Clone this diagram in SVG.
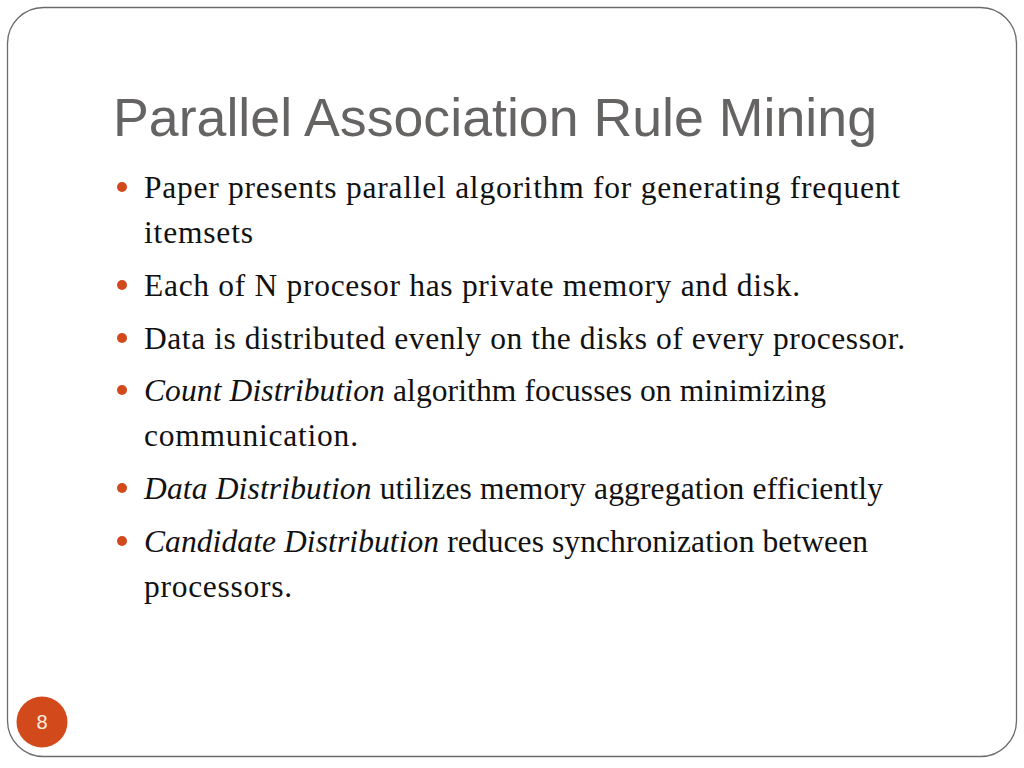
<svg xmlns="http://www.w3.org/2000/svg" width="1024" height="768" viewBox="0 0 1024 768">
<style>
.title{font-family:"Liberation Sans","Open Sans",sans-serif;font-size:53px;fill:#666363}
.body{font-family:"Liberation Serif",serif;font-size:31.5px;fill:#111}
.it{font-style:italic}
.dot{fill:#D24A1C}
</style>
<rect x="0" y="0" width="1024" height="768" fill="#fff"/>
<rect id="frame" x="7.5" y="7.5" width="1009" height="749" rx="36" ry="36" fill="none" stroke="#6b6b6b" stroke-width="1.3"/>
<g id="title"><text class="title" x="113" y="136" textLength="764" lengthAdjust="spacingAndGlyphs">Parallel Association Rule Mining</text></g>
<g id="bullets">
<circle class="dot" cx="122" cy="187" r="5"/>
<text class="body" x="144" y="198" textLength="756" lengthAdjust="spacing">Paper presents parallel algorithm for generating frequent</text>
<text class="body" x="144" y="243" textLength="109" lengthAdjust="spacing">itemsets</text>
<circle class="dot" cx="122" cy="285" r="5"/>
<text class="body" x="144" y="296" textLength="656" lengthAdjust="spacing">Each of N procesor has private memory and disk.</text>
<circle class="dot" cx="122" cy="338" r="5"/>
<text class="body" x="144" y="349" textLength="761" lengthAdjust="spacing">Data is distributed evenly on the disks of every processor.</text>
<circle class="dot" cx="122" cy="390" r="5"/>
<text class="body" x="144" y="401" textLength="682" lengthAdjust="spacing"><tspan class="it">Count Distribution</tspan> algorithm focusses on minimizing</text>
<text class="body" x="144" y="446" textLength="214" lengthAdjust="spacing">communication.</text>
<circle class="dot" cx="122" cy="488" r="5"/>
<text class="body" x="144" y="499" textLength="739" lengthAdjust="spacing"><tspan class="it">Data Distribution</tspan> utilizes memory aggregation efficiently</text>
<circle class="dot" cx="122" cy="541" r="5"/>
<text class="body" x="144" y="552" textLength="724" lengthAdjust="spacing"><tspan class="it">Candidate Distribution</tspan> reduces synchronization between</text>
<text class="body" x="144" y="597" textLength="148" lengthAdjust="spacing">processors.</text>
</g>
<g id="page-number">
<circle cx="42" cy="722" r="25.5" fill="#D24A1C"/>
<text x="42" y="729" text-anchor="middle" font-family="Liberation Sans,sans-serif" font-size="20" fill="#FCEFE0">8</text>
</g>
</svg>
